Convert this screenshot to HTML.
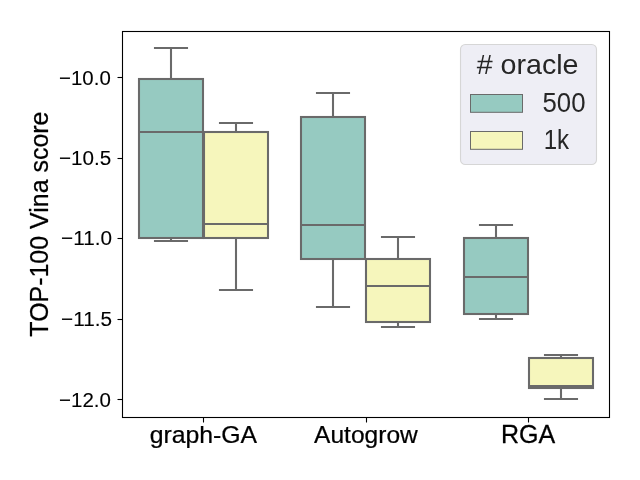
<!DOCTYPE html>
<html>
<head>
<meta charset="utf-8">
<title>TOP-100 Vina score boxplot</title>
<style>
html,body{margin:0;padding:0;background:#fff;width:640px;height:480px;overflow:hidden}
svg{display:block;position:absolute;left:0;top:0}
text{font-family:"Liberation Sans",Arial,Helvetica,sans-serif;stroke-linejoin:round}
.bx{stroke:#6a6a6a;stroke-width:2.08;stroke-linejoin:miter}
.ln{stroke:#6a6a6a;stroke-width:2.08;fill:none;stroke-linecap:butt}
.cap{stroke:#6a6a6a;stroke-width:2.08;fill:none;stroke-linecap:square}
.t{fill:#96cac1}
.y{fill:#f6f6bc}
.tick{stroke:#000;stroke-width:1.1;fill:none}
</style>
</head>
<body>
<svg width="640" height="480" viewBox="0 0 640 480">
<rect x="0" y="0" width="640" height="480" fill="#fff"/>

<!-- boxes -->
<g id="boxes">
<!-- graph-GA 500 -->
<line class="ln" x1="171" y1="79" x2="171" y2="48"/>
<line class="ln" x1="171" y1="238" x2="171" y2="241"/>
<line class="cap" x1="155" y1="48" x2="187" y2="48"/>
<line class="cap" x1="155" y1="241" x2="187" y2="241"/>
<rect class="bx t" x="139" y="79" width="64" height="159"/>
<line class="ln" x1="139" y1="132" x2="203" y2="132"/>
<!-- graph-GA 1k -->
<line class="ln" x1="236" y1="132" x2="236" y2="123"/>
<line class="ln" x1="236" y1="238" x2="236" y2="290"/>
<line class="cap" x1="220" y1="123" x2="252" y2="123"/>
<line class="cap" x1="220" y1="290" x2="252" y2="290"/>
<rect class="bx y" x="204" y="132" width="64" height="106"/>
<line class="ln" x1="204" y1="224" x2="268" y2="224"/>
<!-- Autogrow 500 -->
<line class="ln" x1="333" y1="117" x2="333" y2="93"/>
<line class="ln" x1="333" y1="259" x2="333" y2="307"/>
<line class="cap" x1="317" y1="93" x2="349" y2="93"/>
<line class="cap" x1="317" y1="307" x2="349" y2="307"/>
<rect class="bx t" x="301" y="117" width="64" height="142"/>
<line class="ln" x1="301" y1="225" x2="365" y2="225"/>
<!-- Autogrow 1k -->
<line class="ln" x1="398" y1="259" x2="398" y2="237"/>
<line class="ln" x1="398" y1="322" x2="398" y2="327"/>
<line class="cap" x1="382" y1="237" x2="414" y2="237"/>
<line class="cap" x1="382" y1="327" x2="414" y2="327"/>
<rect class="bx y" x="366" y="259" width="64" height="63"/>
<line class="ln" x1="366" y1="286" x2="430" y2="286"/>
<!-- RGA 500 -->
<line class="ln" x1="496" y1="238" x2="496" y2="225"/>
<line class="ln" x1="496" y1="314" x2="496" y2="319"/>
<line class="cap" x1="480" y1="225" x2="512" y2="225"/>
<line class="cap" x1="480" y1="319" x2="512" y2="319"/>
<rect class="bx t" x="464" y="238" width="64" height="76"/>
<line class="ln" x1="464" y1="277" x2="528" y2="277"/>
<!-- RGA 1k -->
<line class="ln" x1="561" y1="358" x2="561" y2="355"/>
<line class="ln" x1="561" y1="388" x2="561" y2="399"/>
<line class="cap" x1="545" y1="355" x2="577" y2="355"/>
<line class="cap" x1="545" y1="399" x2="577" y2="399"/>
<rect class="bx y" x="529" y="358" width="64" height="30"/>
<line class="ln" x1="529" y1="386" x2="593" y2="386"/>
</g>

<!-- ticks -->
<g id="ticks">
<line class="tick" x1="117.5" y1="77.5" x2="122.5" y2="77.5"/>
<line class="tick" x1="117.5" y1="158.5" x2="122.5" y2="158.5"/>
<line class="tick" x1="117.5" y1="238.5" x2="122.5" y2="238.5"/>
<line class="tick" x1="117.5" y1="319.5" x2="122.5" y2="319.5"/>
<line class="tick" x1="117.5" y1="399.5" x2="122.5" y2="399.5"/>
<line class="tick" x1="203.5" y1="417.5" x2="203.5" y2="422.5"/>
<line class="tick" x1="366.5" y1="417.5" x2="366.5" y2="422.5"/>
<line class="tick" x1="528.5" y1="417.5" x2="528.5" y2="422.5"/>
</g>

<!-- spines -->
<rect x="122.5" y="31.5" width="487" height="386" fill="none" stroke="#000" stroke-width="1.1"/>

<!-- y tick labels -->
<g id="ylabels">
<text transform="translate(59.05,84.80) scale(1.0067,1.0200)" font-size="20.3" fill="#000" stroke="#000" stroke-width="0.1">−10.0</text>
<text transform="translate(59.04,164.80) scale(1.0174,1.0200)" font-size="20.3" fill="#000" stroke="#000" stroke-width="0.1">−10.5</text>
<text transform="translate(61.05,245.40) scale(1.0228,1.0200)" font-size="20.3" fill="#000" stroke="#000" stroke-width="0.1">−11.0</text>
<text transform="translate(61.04,325.50) scale(1.0214,1.0200)" font-size="20.3" fill="#000" stroke="#000" stroke-width="0.1">−11.5</text>
<text transform="translate(59.04,407.00) scale(1.0110,1.0200)" font-size="20.3" fill="#000" stroke="#000" stroke-width="0.1">−12.0</text>
</g>

<!-- x tick labels -->
<g id="xlabels">
<text transform="translate(149.63,443.35) scale(0.9928,0.9700)" font-size="25" fill="#000" stroke="#000" stroke-width="0.25">graph-GA</text>
<text transform="translate(314.09,443.35) scale(0.9820,0.9700)" font-size="25" fill="#000" stroke="#000" stroke-width="0.25">Autogrow</text>
<text transform="translate(500.90,443.45) scale(1.0021,1.0100)" font-size="25" fill="#000" stroke="#000" stroke-width="0.25">RGA</text>
</g>

<!-- y axis label -->
<text transform="translate(47.95,336.66) rotate(-90) scale(0.9983,1.0100)" font-size="25" fill="#000" stroke="#000" stroke-width="0.25">TOP-100 Vina score</text>

<!-- legend -->
<g id="legend">
<rect x="460.5" y="44.5" width="136" height="120" rx="4.8" ry="4.8" fill="#eeeef5" stroke="#d6d6d6" stroke-width="1.1"/>
<text transform="translate(476.63,73.60) scale(1.0608,1.0000)" font-size="27" fill="#262626"># oracle</text>
<rect x="470.5" y="94.5" width="52" height="17.8" fill="#96cac1" stroke="#6a6a6a" stroke-width="1"/>
<rect x="470.5" y="131.5" width="52" height="17.8" fill="#f6f6bc" stroke="#6a6a6a" stroke-width="1"/>
<text transform="translate(542.49,112.00) scale(0.9726,1.0350)" font-size="26.5" fill="#262626">500</text>
<text transform="translate(543.67,148.85) scale(0.9086,1.0150)" font-size="26.5" fill="#262626">1k</text>
</g>
</svg>
</body>
</html>
